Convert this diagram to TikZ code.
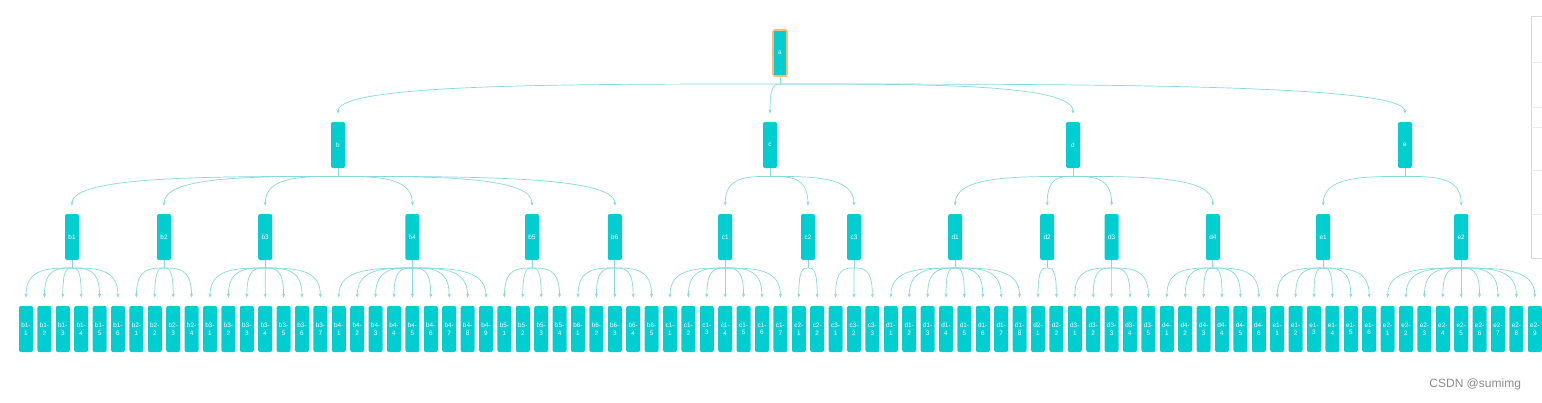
\documentclass[tikz,border=0pt]{standalone}
\usepackage{fontspec}
\setmainfont{Liberation Sans}
\usetikzlibrary{calc,arrows.meta}
\definecolor{nd}{HTML}{00CED1}
\definecolor{ed}{HTML}{86D9DC}
\begin{document}
\begin{tikzpicture}[x=0.5pt,y=-0.5pt,
  box/.style={fill=nd,rounded corners=1pt,minimum width=7pt,minimum height=23pt,inner sep=0pt,text=white,font=\fontsize{3.2}{3.8}\selectfont,align=center},
  edge/.style={draw=ed,line width=0.35pt,-{Stealth[length=2pt,width=1.6pt]}},
  stub/.style={draw=ed,line width=0.35pt}]
\useasboundingbox (0,0) rectangle (1542,402);
\fill[white] (0,0) rectangle (1542,402);
% side panel fragment
\draw[black!15,fill=white] (1531,16) rectangle (1550,258);
\foreach \yy in {62,107,127,170,214} \draw[black!8] (1531,\yy) -- (1542,\yy);
\node[text=black!45,font=\fontsize{6}{7}\selectfont,anchor=east] (wm) at (1528,384) {CSDN @sumimg};
% root
\node[box,draw=orange!55,line width=0.8pt] (a) at (780,53) {a};
\coordinate (aj) at (780,84);
\draw[stub] (a.south) -- (aj);
\node[box] (b) at (338,145) {b};
\node[box] (c) at (770,145) {c};
\node[box] (d) at (1073,145) {d};
\node[box] (e) at (1405,145) {e};
\foreach \q in {b,c,d,e} {
  \draw[edge] (aj) .. controls ($(aj)!0.5!(aj -| \q)$) and (aj -| \q) .. ($(\q.north)+(0,-8)$);
  \coordinate (\q j) at ($(\q.south)+(0,8)$);
  \draw[stub] (\q.south) -- (\q j);
}
\foreach \p/\n/\s/\g in {b1/6/0/b, b2/4/6/b, b3/7/10/b, b4/9/17/b, b5/4/26/b, b6/5/30/b, c1/7/35/c, c2/2/42/c, c3/3/44/c, d1/8/47/d, d2/2/55/d, d3/5/57/d, d4/6/62/d, e1/6/68/e, e2/9/74/e} {
  \pgfmathsetmacro\px{26+18.4*(\s+(\n-1)/2)}
  \node[box] (\p) at (\px,237) {\p};
  \draw[edge] (\g j) .. controls ($(\g j)!0.5!(\g j -| \p)$) and (\g j -| \p) .. ($(\p.north)+(0,-8)$);
  \coordinate (\p j) at (\px,268);
  \draw[stub] (\p.south) -- (\p j);
  \foreach \k in {1,...,\n} {
    \pgfmathsetmacro\lx{26+18.4*(\s+\k-1)}
    \node[box] (\p-\k) at (\lx,329) {\p-\\\k};
    \draw[edge] (\p j) .. controls ($(\p j)!0.5!(\p j -| \p-\k)$) and (\p j -| \p-\k) .. ($(\p-\k.north)+(0,-8)$);
  }
}
\end{tikzpicture}
\end{document}
